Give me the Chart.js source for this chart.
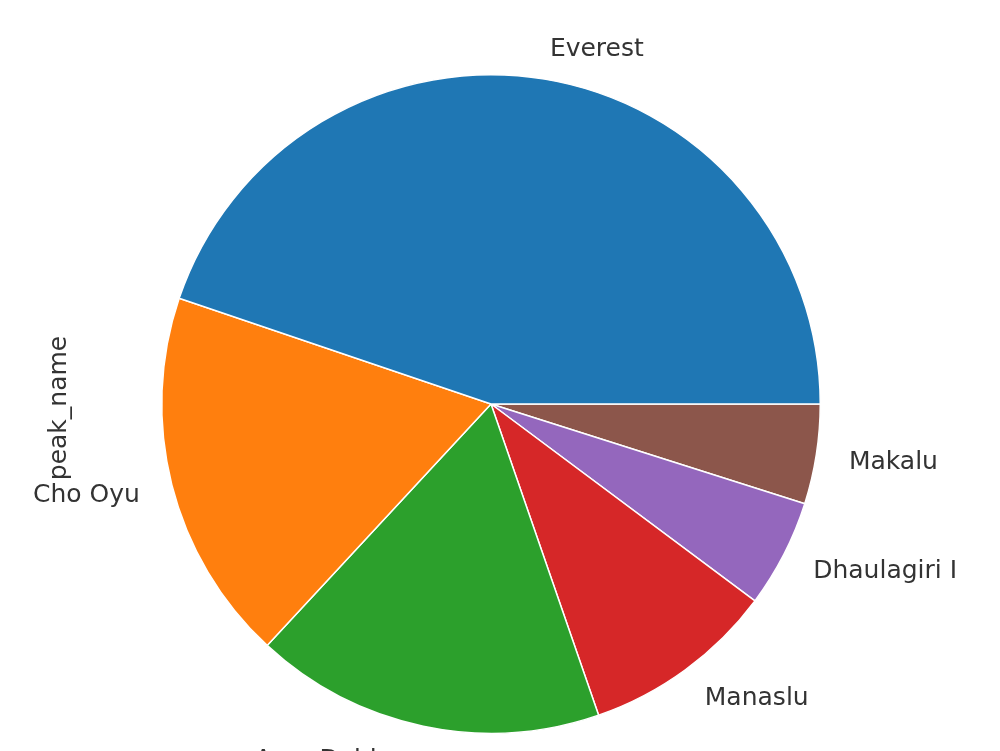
<!DOCTYPE html>
<html>
<head>
<meta charset="utf-8">
<script src="https://cdn.jsdelivr.net/npm/chart.js@4/dist/chart.umd.min.js"></script>
<style>
  html, body { margin: 0; padding: 0; background: #ffffff; }
  #wrap { width: 1000px; height: 751px; }
</style>
</head>
<body>
<div id="wrap"><canvas id="c" width="1000" height="751"></canvas></div>
<script>
// Data (in matplotlib order: counter-clockwise from 3 o'clock)
const categories = ["Everest", "Cho Oyu", "Ama Dablam", "Manaslu", "Dhaulagiri I", "Makalu"];
const counts = [448, 183, 172, 95, 53, 49];
const colors = ["#1f77b4", "#ff7f0e", "#2ca02c", "#d62728", "#9467bd", "#8c564b"];
const axisLabel = "peak_name";

// Chart.js draws clockwise, so reverse to mimic matplotlib's counter-clockwise order
const revLabels = categories.slice().reverse();
const revCounts = counts.slice().reverse();
const revColors = colors.slice().reverse();

const FONT = '25px "DejaVu Sans"';
const TEXT_COLOR = '#333333';

const labelPlugin = {
  id: 'outerLabels',
  afterDraw(chart) {
    const ctx = chart.ctx;
    const meta = chart.getDatasetMeta(0);
    ctx.save();
    ctx.font = FONT;
    ctx.fillStyle = TEXT_COLOR;
    ctx.textBaseline = 'middle';
    meta.data.forEach((arc, i) => {
      const p = arc.getProps(['x', 'y', 'startAngle', 'endAngle', 'outerRadius'], true);
      const mid = (p.startAngle + p.endAngle) / 2;
      const r = p.outerRadius * 1.1;
      const lx = p.x + r * Math.cos(mid);
      const ly = p.y + r * Math.sin(mid) + 2.5;
      ctx.textAlign = Math.cos(mid) > 0 ? 'left' : 'right';
      ctx.fillText(chart.data.labels[i], lx, ly);
    });
    // y-axis style label, rotated
    const a = meta.data[0];
    const cy = a ? a.y : chart.chartArea.top + (chart.chartArea.bottom - chart.chartArea.top) / 2;
    ctx.translate(59, cy + 4);
    ctx.rotate(-Math.PI / 2);
    ctx.textAlign = 'center';
    ctx.textBaseline = 'middle';
    ctx.fillText(axisLabel, 0, 0);
    ctx.restore();
  }
};

new Chart(document.getElementById('c'), {
  type: 'pie',
  data: {
    labels: revLabels,
    datasets: [{
      data: revCounts,
      backgroundColor: revColors,
      borderColor: '#ffffff',
      borderWidth: 1.5
    }]
  },
  options: {
    responsive: false,
    animation: false,
    rotation: 90,
    layout: { padding: { left: 161, right: 179, top: 74, bottom: 17 } },
    plugins: {
      legend: { display: false },
      tooltip: { enabled: false }
    }
  },
  plugins: [labelPlugin]
});
</script>
</body>
</html>
